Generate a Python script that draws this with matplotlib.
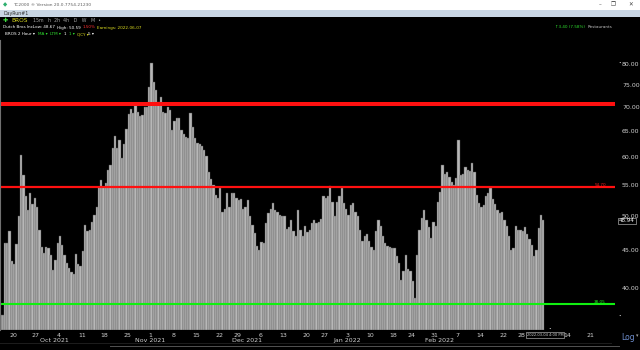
import numpy as np
import pandas as pd
import matplotlib
matplotlib.use("Agg")
import matplotlib.pyplot as plt
import matplotlib.transforms as mtransforms
from matplotlib.patches import Rectangle

plt.rcParams.update({'font.family': "DejaVu Sans",
                     'font.size': 4.5})

# Data input: BROS 2-hour bars (two per session)
prices = [
    # Sep 15 - Oct 12
    36.8, 36.8, 45.9, 46.0, 47.7, 43.4, 43.0, 45.8, 49.9, 60.4,
    56.7, 53.1, 50.9, 53.6, 51.9, 52.8, 51.4, 47.9, 45.4, 44.5,
    45.4, 45.2, 44.3, 42.3, 43.6, 45.9, 46.9, 45.7, 44.3, 43.2,
    42.5, 42.0, 41.8, 44.4, 43.0, 42.8, 44.8, 48.6, 47.7, 47.8,
    49.1, 50.1, 51.4, 54.6, 55.9, 54.7, 55.3, 57.6, 58.5,
    # Oct 12 - Nov 5
    61.6, 64.0, 61.6, 63.2, 59.8, 62.5, 65.5, 68.6, 69.7, 68.8,
    70.5, 69.0, 68.1, 68.4, 70.0, 70.0, 74.6, 80.2, 75.7, 73.9,
    71.2, 72.3, 69.0, 68.7, 70.0, 69.5, 65.2, 67.0, 67.6, 67.6,
    65.2, 64.5, 63.9, 63.6, 68.7, 65.9, 63.6, 62.7, 62.5, 62.0,
    61.4, 60.1, 57.3, 56.0, 55.0, 53.3, 52.8, 54.5,
    # Nov 29 - Dec 31
    50.6, 51.1, 53.6, 51.4, 53.7, 53.7, 52.8, 52.5, 52.6, 51.1,
    51.4, 52.5, 49.9, 48.6, 47.4, 45.5, 45.0, 46.1, 45.9, 48.9,
    50.5, 51.0, 52.0, 50.9, 50.6, 50.1, 50.0, 49.9, 48.0, 48.3,
    49.4, 47.7, 46.9, 50.9, 47.9, 46.9, 48.5, 47.5, 47.8, 48.9,
    49.3, 48.9, 49.1, 49.5, 53.2, 52.9, 53.1, 54.8,
    # Jan
    52.2, 49.9, 52.2, 53.1, 54.5, 52.0, 51.1, 50.1, 51.7, 52.1,
    50.6, 49.9, 47.9, 46.2, 46.9, 47.3, 46.2, 45.4, 45.0, 47.7,
    49.4, 48.4, 47.0, 46.0, 45.5, 45.4, 45.3, 45.3, 44.2, 43.2,
    41.0, 42.1, 44.3, 42.4, 42.1, 40.8, 38.7, 44.3, 47.9, 49.6,
    50.9, 49.4, 48.3, 46.7, 49.1, 48.4, 52.2, 53.9,
    # Feb - Mar 4
    58.5, 57.0, 57.3, 56.4, 55.6, 55.0, 56.2, 63.2, 56.7, 57.0,
    58.1, 57.6, 57.5, 58.8, 57.3, 53.3, 52.0, 51.4, 51.7, 53.2,
    53.6, 54.5, 52.6, 51.9, 50.9, 50.4, 50.6, 49.4, 48.4, 46.9,
    45.0, 45.3, 48.4, 47.8, 47.9, 47.7, 48.3, 47.3, 46.6, 45.7,
    44.1, 45.0, 48.2, 50.1, 49.4,
]
bars_per_session = 2

holidays = ["2021-11-25", "2021-12-24", "2022-01-17", "2022-02-21"]

week_ticks = ["2021-09-20", "2021-09-27", "2021-10-04", "2021-10-11", "2021-10-18",
              "2021-10-25", "2021-11-01", "2021-11-08", "2021-11-15", "2021-11-22",
              "2021-11-29", "2021-12-06", "2021-12-13", "2021-12-20", "2021-12-27",
              "2022-01-03", "2022-01-10", "2022-01-18", "2022-01-24", "2022-01-31",
              "2022-02-07", "2022-02-14", "2022-02-22", "2022-02-28", "2022-03-14",
              "2022-03-21"]
month_ticks = ["2021-10-01", "2021-11-01", "2021-12-01", "2022-01-03", "2022-02-01"]
month_labels = ["Oct 2021", "Nov 2021", "Dec 2021", "Jan 2022", "Feb 2022"]

price_ticks = [40, 45, 50, 55, 60, 65, 70, 75, 80]

# horizontal levels drawn on the chart
resistance_top = 70.7
resistance_mid = 54.7
support = 38.05

W, H = 640, 350


def fx(x):
    return x / W


def fy(y):
    return 1 - y / H


#-------------------------------------------------------------
fig = plt.figure(figsize=(6.4, 3.5), dpi=100, facecolor="black")

days = pd.bdate_range("2021-09-15", "2022-03-31", freq="C", holidays=holidays)
pos = {d: i for i, d in enumerate(days)}

ax = fig.add_axes([0.0, fy(330), fx(615), (330 - 40) / H])
ax.set_facecolor("black")
ax.set_yscale("log")
ymin, ymax = 35.1, 86.2
ax.set_ylim(ymin, ymax)
ax.set_xlim(0.15, 134.4)

x = np.arange(len(prices)) / bars_per_session
vals = np.array(prices)
ax.bar(x, vals - ymin, bottom=ymin, width=0.5, align="edge",
       color="#b8b8b8", edgecolor="#505050", linewidth=0.3)

ax.axhline(resistance_top, color="#ff1010", lw=2.9)
ax.axhline(resistance_mid, color="#ff1010", lw=1.6)
ax.axhline(support, color="#10f010", lw=1.5)
ax.text(0.985, resistance_mid, f"{resistance_mid:.2f}", color="#ff2020", fontsize=3,
        transform=mtransforms.blended_transform_factory(ax.transAxes, ax.transData),
        ha="right", va="bottom")
ax.text(0.985, support, f"{support:.2f}", color="#20ff20", fontsize=3,
        transform=mtransforms.blended_transform_factory(ax.transAxes, ax.transData),
        ha="right", va="bottom")

# axes
for s in ["top", "right", "bottom"]:
    ax.spines[s].set_visible(False)
ax.spines["left"].set_color("#707070")
ax.spines["left"].set_linewidth(0.8)

ax.yaxis.tick_right()
ax.set_yticks(price_ticks)
ax.set_yticklabels([f"{p:.2f}" for p in price_ticks])
ax.yaxis.set_minor_locator(plt.NullLocator())
ax.tick_params(axis="y", length=0, pad=5, colors="#d0d0d0", labelsize=4.5)

ax.set_xticks([pos[pd.Timestamp(d)] for d in week_ticks])
ax.set_xticklabels([str(pd.Timestamp(d).day) for d in week_ticks])
ax.tick_params(axis="x", length=0, pad=2, colors="#d0d0d0", labelsize=4.5)

trans = mtransforms.blended_transform_factory(ax.transData, ax.transAxes)
for d, lab in zip(month_ticks, month_labels):
    ax.text(pos[pd.Timestamp(d)], -0.028, lab, transform=trans, color="#d0d0d0",
            fontsize=4.5, ha="center", va="top")

# last price box and date box
fig.text(fx(627), fy(221), "48.94", color="white", fontsize=4, ha="center", va="center",
         bbox=dict(facecolor="black", edgecolor="#d0d0d0", lw=0.4, pad=0.6))
fig.text(fx(545), fy(335), "2022-03-04 4:00 PM", color="#d0d0d0", fontsize=2.6,
         ha="center", va="center",
         bbox=dict(facecolor="black", edgecolor="#d0d0d0", lw=0.4, pad=0.5))
fig.text(fx(621), fy(337), "Log", color="#6f8fd0", fontsize=5.5, ha="left", va="center")
fig.text(fx(637), fy(336), "\u25be", color="#a0a0a0", fontsize=3.5, ha="center", va="center")
for px_, py_ in [(620, 64), (620, 317), (550, 330)]:
    fig.text(fx(px_), fy(py_), "\u2022", color="white", fontsize=3, ha="center", va="center")

# window title and toolbars
fig.patches.append(Rectangle((0, fy(10)), 1, 10 / H, transform=fig.transFigure,
                             facecolor="white", edgecolor="none"))
fig.patches.append(Rectangle((0, fy(17)), 1, 7 / H, transform=fig.transFigure,
                             facecolor="#c9d6e4", edgecolor="none"))
fig.patches.append(Rectangle((fx(110), fy(347)), fx(510), 1.2 / H, transform=fig.transFigure,
                             facecolor="#505050", edgecolor="none"))
fig.patches.append(Rectangle((0, fy(344)), fx(612), 1.5 / H, transform=fig.transFigure,
                             facecolor="#1c1c1c", edgecolor="none"))
fig.text(fx(3), fy(5), "\u25c6", color="#2fb06f", fontsize=4, va="center")
fig.text(fx(13), fy(5), "TC2000 \u00ae Version 20.0.7754.21230", color="#606060",
         fontsize=3.2, va="center")
fig.text(fx(600), fy(5), "\u2013", color="#404040", fontsize=4, va="center", ha="center")
fig.text(fx(613), fy(5), "\u2750", color="#404040", fontsize=4, va="center", ha="center")
fig.text(fx(631), fy(5), "\u2715", color="#404040", fontsize=4, va="center", ha="center")
fig.text(fx(4), fy(13.5), "DayRun#1", color="#303030", fontsize=3.4, va="center")

fig.text(fx(3), fy(21), "\u271a", color="#40e040", fontsize=4.5, va="center")
fig.text(fx(11), fy(21), "BROS", color="#d8d820", fontsize=4.2, va="center")
fig.text(fx(33), fy(21), "15m   h  2h  4h   D   W   M  \u2022", color="#a0a0a0",
         fontsize=3.4, va="center")

row2 = [(3, "Dutch Bros Inc.", "white"), (33, "Low: 48.67", "white"),
        (57, "High: 50.59", "white"), (83, "1.50%", "#ff3030"),
        (97, "Earnings: 2022-06-07", "#e0e020")]
for px_, txt, col in row2:
    fig.text(fx(px_), fy(27.5), txt, color=col, fontsize=3.0, va="center")
fig.text(fx(585), fy(27.5), "\u21913.40 (7.58%)", color="#30e030", fontsize=3.0,
         va="center", ha="right")
fig.text(fx(588), fy(27.5), "Restaurants", color="#c0c0c0", fontsize=3.0, va="center")

row3 = [(5, "BROS 2 Hour \u25be", "white"), (38, "MA \u25be", "#30e030"),
        (50, "LTM \u25be", "#30e030"), (64, "1", "white"), (69, "1 \u25be", "#30e030"),
        (77, "QCY \u25be", "#e0e020"), (88, "5 \u25be", "white")]
for px_, txt, col in row3:
    fig.text(fx(px_), fy(34), txt, color=col, fontsize=3.0, va="center")

fig.savefig("out.png", dpi=100, facecolor="black")
